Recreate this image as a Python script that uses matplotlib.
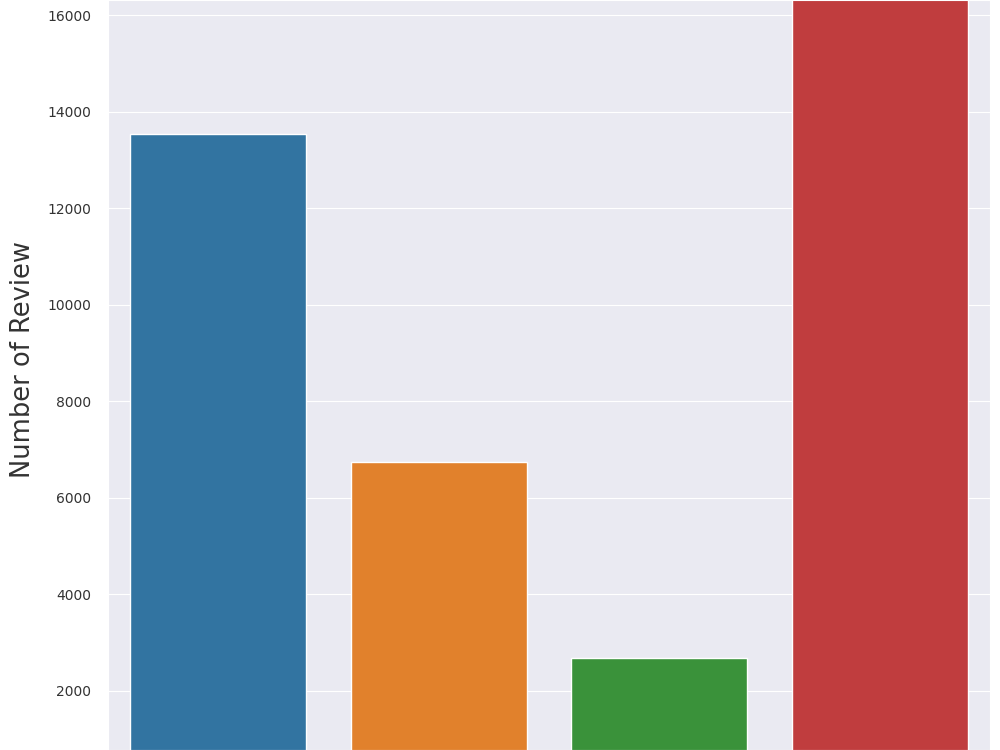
import matplotlib
matplotlib.use("Agg")
import matplotlib.pyplot as plt
import seaborn as sns

# review counts per category (category labels sit below the visible crop)
categories = ["A", "B", "C", "D"]
reviews = [13540, 6740, 2680, 17400]

sns.set_style("darkgrid")
palette = sns.color_palette(desat=0.75)

fig = plt.figure(figsize=(10, 7.5), dpi=100)
ax = fig.add_axes([0.108, 0.0, 0.882, 1.0])

ax.bar(range(len(categories)), reviews, width=0.8, color=palette[:len(categories)],
       edgecolor="white", linewidth=1.0, zorder=2)

ax.set_xlim(-0.5, len(categories) - 0.5)
ax.set_ylim(778, 16311)
ax.set_xticks(range(len(categories)))
ax.set_xticklabels([])
ax.grid(False, axis="x")
ax.set_yticks(range(2000, 16001, 2000))
ax.tick_params(axis="y", labelsize=10, pad=12, length=0, labelcolor="#333333")
ax.tick_params(axis="x", length=0)
ax.set_ylabel("Number of Review", fontsize=18.5, color="#333333")
ax.yaxis.set_label_coords(-0.082, 0.52)

fig.savefig("out.png", dpi=100)
